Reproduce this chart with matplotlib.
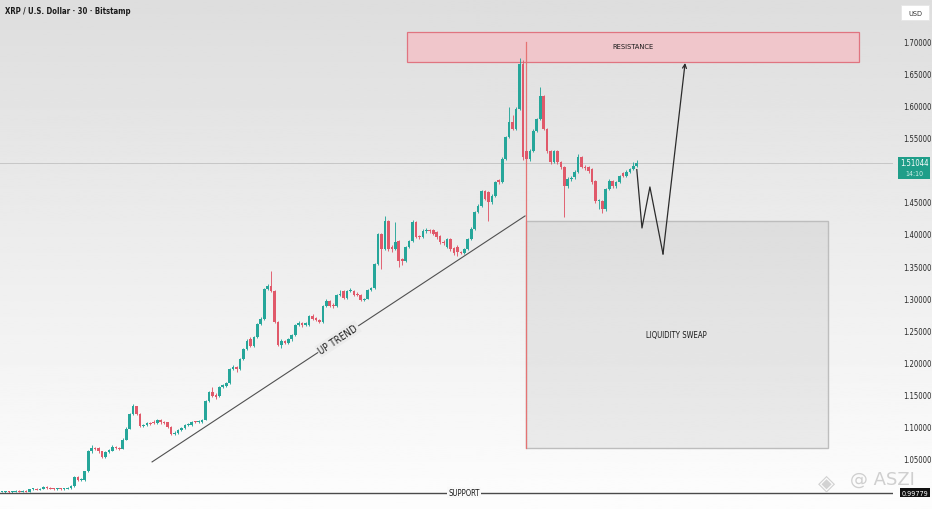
import matplotlib
matplotlib.use("Agg")
import matplotlib.pyplot as plt
import matplotlib.transforms as mtransforms
from matplotlib.patches import Rectangle
import numpy as np

plt.rcParams['font.family'] = ['DejaVu Sans']
plt.rcParams['font.stretch'] = 'condensed'

# ---------------- data (30m candles, XRP/USD) ----------------
opens = [
    0.998, 0.998, 0.999, 0.998, 0.999, 1.000, 0.999, 1.000, 0.999, 1.003,
    1.004, 1.002, 1.004, 1.007, 1.005, 1.004, 1.003, 1.004, 1.003, 1.004,
    1.005, 1.008, 1.022, 1.017, 1.018, 1.031, 1.062, 1.067, 1.067, 1.062,
    1.053, 1.061, 1.063, 1.069, 1.067, 1.066, 1.080, 1.097, 1.120, 1.132,
    1.120, 1.101, 1.103, 1.106, 1.108, 1.106, 1.111, 1.108, 1.107, 1.100,
    1.089, 1.091, 1.095, 1.098, 1.103, 1.103, 1.108, 1.108, 1.107, 1.111,
    1.140, 1.154, 1.150, 1.148, 1.162, 1.163, 1.168, 1.190, 1.193, 1.190,
    1.205, 1.221, 1.237, 1.226, 1.240, 1.260, 1.268, 1.314, 1.319, 1.311,
    1.263, 1.227, 1.233, 1.231, 1.236, 1.243, 1.258, 1.261, 1.258, 1.258,
    1.272, 1.269, 1.266, 1.263, 1.288, 1.296, 1.290, 1.288, 1.305, 1.311,
    1.300, 1.311, 1.311, 1.307, 1.305, 1.297, 1.299, 1.313, 1.316, 1.353,
    1.400, 1.377, 1.420, 1.380, 1.377, 1.389, 1.361, 1.358, 1.380, 1.389,
    1.418, 1.397, 1.395, 1.404, 1.405, 1.406, 1.403, 1.397, 1.388, 1.380,
    1.392, 1.378, 1.380, 1.372, 1.371, 1.377, 1.392, 1.408, 1.434, 1.443,
    1.467, 1.465, 1.450, 1.459, 1.484, 1.481, 1.517, 1.551, 1.574, 1.563,
    1.594, 1.664, 1.529, 1.517, 1.529, 1.560, 1.579, 1.615, 1.563, 1.529,
    1.512, 1.529, 1.512, 1.504, 1.475, 1.485, 1.488, 1.496, 1.520, 1.504,
    1.504, 1.501, 1.482, 1.451, 1.451, 1.439, 1.470, 1.482, 1.475, 1.481,
    1.494, 1.490, 1.496, 1.501, 1.506,
]
highs = [
    0.999, 1.000, 1.000, 1.000, 1.001, 1.001, 1.001, 1.001, 1.004, 1.005,
    1.005, 1.005, 1.008, 1.008, 1.006, 1.005, 1.005, 1.005, 1.005, 1.006,
    1.009, 1.024, 1.024, 1.021, 1.032, 1.064, 1.072, 1.069, 1.068, 1.063,
    1.062, 1.066, 1.071, 1.070, 1.069, 1.082, 1.099, 1.122, 1.135, 1.133,
    1.121, 1.105, 1.108, 1.108, 1.110, 1.112, 1.112, 1.109, 1.108, 1.101,
    1.093, 1.096, 1.100, 1.104, 1.106, 1.109, 1.109, 1.110, 1.112, 1.141,
    1.155, 1.162, 1.152, 1.164, 1.167, 1.170, 1.192, 1.196, 1.195, 1.207,
    1.223, 1.236, 1.240, 1.241, 1.262, 1.270, 1.316, 1.322, 1.342, 1.313,
    1.265, 1.236, 1.235, 1.238, 1.245, 1.260, 1.264, 1.263, 1.263, 1.274,
    1.275, 1.271, 1.268, 1.290, 1.298, 1.297, 1.292, 1.307, 1.312, 1.313,
    1.313, 1.316, 1.313, 1.309, 1.306, 1.301, 1.314, 1.318, 1.355, 1.402,
    1.401, 1.428, 1.422, 1.382, 1.418, 1.391, 1.363, 1.381, 1.391, 1.421,
    1.420, 1.399, 1.407, 1.409, 1.408, 1.408, 1.405, 1.398, 1.390, 1.394,
    1.394, 1.380, 1.382, 1.374, 1.378, 1.394, 1.410, 1.436, 1.446, 1.469,
    1.468, 1.467, 1.462, 1.483, 1.486, 1.519, 1.553, 1.597, 1.585, 1.597,
    1.674, 1.670, 1.531, 1.532, 1.563, 1.581, 1.629, 1.616, 1.565, 1.531,
    1.531, 1.531, 1.514, 1.506, 1.488, 1.490, 1.499, 1.525, 1.521, 1.507,
    1.506, 1.503, 1.484, 1.455, 1.453, 1.472, 1.485, 1.484, 1.483, 1.492,
    1.496, 1.499, 1.503, 1.512, 1.515,
]
lows = [
    0.997, 0.997, 0.997, 0.997, 0.998, 0.998, 0.998, 0.998, 0.998, 1.002,
    1.001, 1.001, 1.003, 1.004, 1.003, 1.002, 1.002, 1.002, 1.002, 1.003,
    1.004, 1.007, 1.015, 1.015, 1.016, 1.030, 1.060, 1.064, 1.060, 1.051,
    1.052, 1.059, 1.062, 1.065, 1.064, 1.065, 1.079, 1.096, 1.118, 1.118,
    1.099, 1.099, 1.101, 1.103, 1.104, 1.104, 1.105, 1.104, 1.098, 1.087,
    1.087, 1.089, 1.094, 1.097, 1.102, 1.102, 1.106, 1.106, 1.106, 1.110,
    1.139, 1.146, 1.144, 1.147, 1.160, 1.162, 1.167, 1.188, 1.186, 1.189,
    1.204, 1.220, 1.224, 1.224, 1.238, 1.258, 1.266, 1.312, 1.309, 1.261,
    1.225, 1.222, 1.228, 1.229, 1.234, 1.241, 1.256, 1.255, 1.256, 1.257,
    1.266, 1.264, 1.261, 1.262, 1.286, 1.286, 1.285, 1.287, 1.303, 1.298,
    1.299, 1.309, 1.303, 1.303, 1.295, 1.295, 1.298, 1.311, 1.315, 1.352,
    1.345, 1.375, 1.374, 1.372, 1.375, 1.349, 1.352, 1.356, 1.378, 1.388,
    1.393, 1.392, 1.393, 1.402, 1.401, 1.398, 1.392, 1.385, 1.383, 1.378,
    1.374, 1.367, 1.366, 1.368, 1.369, 1.375, 1.390, 1.406, 1.432, 1.442,
    1.452, 1.420, 1.447, 1.457, 1.478, 1.479, 1.515, 1.549, 1.561, 1.561,
    1.592, 1.515, 1.496, 1.514, 1.527, 1.558, 1.577, 1.561, 1.526, 1.509,
    1.510, 1.509, 1.501, 1.426, 1.472, 1.483, 1.486, 1.494, 1.502, 1.500,
    1.495, 1.478, 1.448, 1.438, 1.432, 1.436, 1.468, 1.472, 1.472, 1.479,
    1.488, 1.489, 1.495, 1.499, 1.504,
]
closes = [
    0.998, 0.999, 0.998, 0.999, 1.000, 0.999, 1.000, 0.999, 1.003, 1.004,
    1.002, 1.004, 1.007, 1.005, 1.004, 1.003, 1.004, 1.003, 1.004, 1.005,
    1.008, 1.022, 1.017, 1.019, 1.031, 1.062, 1.067, 1.066, 1.062, 1.053,
    1.061, 1.064, 1.069, 1.067, 1.066, 1.080, 1.097, 1.120, 1.132, 1.120,
    1.101, 1.103, 1.106, 1.105, 1.106, 1.111, 1.107, 1.106, 1.100, 1.089,
    1.091, 1.095, 1.098, 1.103, 1.104, 1.108, 1.107, 1.109, 1.111, 1.140,
    1.154, 1.148, 1.146, 1.162, 1.165, 1.168, 1.190, 1.193, 1.190, 1.205,
    1.221, 1.233, 1.226, 1.240, 1.260, 1.268, 1.314, 1.319, 1.311, 1.263,
    1.227, 1.233, 1.231, 1.236, 1.243, 1.258, 1.261, 1.258, 1.261, 1.272,
    1.268, 1.266, 1.263, 1.288, 1.296, 1.288, 1.288, 1.305, 1.307, 1.300,
    1.311, 1.312, 1.305, 1.305, 1.297, 1.299, 1.313, 1.316, 1.353, 1.400,
    1.377, 1.420, 1.377, 1.377, 1.387, 1.358, 1.358, 1.380, 1.389, 1.418,
    1.395, 1.395, 1.404, 1.406, 1.404, 1.400, 1.395, 1.387, 1.386, 1.392,
    1.377, 1.370, 1.372, 1.371, 1.377, 1.392, 1.408, 1.434, 1.443, 1.467,
    1.454, 1.450, 1.459, 1.481, 1.481, 1.517, 1.551, 1.574, 1.563, 1.594,
    1.664, 1.520, 1.517, 1.529, 1.560, 1.579, 1.615, 1.563, 1.529, 1.512,
    1.529, 1.512, 1.504, 1.475, 1.485, 1.487, 1.496, 1.520, 1.504, 1.503,
    1.498, 1.481, 1.451, 1.452, 1.439, 1.470, 1.482, 1.475, 1.481, 1.490,
    1.490, 1.496, 1.501, 1.506, 1.51044,
]

price_ticks = [1.05, 1.10, 1.15, 1.20, 1.25, 1.30, 1.35, 1.40,
               1.45, 1.55, 1.60, 1.65, 1.70]
last_price = 1.51044
last_time = "14:10"
support_price = 0.99779

# drawings (bar index, price)
resistance_zone = (117.4, 248.4, 1.6669, 1.7135)
sweep_zone = (151.8, 239.3, 1.0667, 1.4197)
trend_x = [43.5, 151.6]
trend_y = [1.0454, 1.4279]
path_x = [184, 185.5, 187.8, 191.6, 198.0]
path_y = [1.500, 1.4092, 1.4730, 1.3688, 1.6658]

# ---------------- figure ----------------
W, H = 932, 510
fig = plt.figure(figsize=(W / 100, H / 100), dpi=100)

bg = fig.add_axes([0, 0, 1, 1], zorder=0)
grad = np.linspace(0.868, 0.992, 256).reshape(-1, 1)
bg.imshow(grad, aspect='auto', cmap='gray', vmin=0, vmax=1,
          extent=[0, 1, 0, 1], origin='upper')
bg.set_axis_off()

AX_W = 893
STEP = 3.45
X0 = 2.0
ax = fig.add_axes([0, 0, AX_W / W, 1], zorder=1)
ax.patch.set_alpha(0)
ax.set_xlim(-X0 / STEP, (AX_W - X0) / STEP)
ax.set_ylim(1.70 - (H - 42) / 643.0, 1.70 + 42 / 643.0)
for s in ax.spines.values():
    s.set_visible(False)
ax.set_xticks([])
ax.yaxis.tick_right()
ax.set_yticks(price_ticks)
ax.set_yticklabels([f"{t:.5f}" for t in price_ticks])
ax.tick_params(axis='y', length=0, pad=7.5, labelsize=5.5, labelcolor='#262626')

UP, DN = '#26a69a', '#e0596a'
n = len(closes)
xs = np.arange(n)
o = np.array(opens); c = np.array(closes)
hi = np.array(highs); lo = np.array(lows)
cols = [UP if cc >= oo else DN for oo, cc in zip(o, c)]
ax.vlines(xs, lo, hi, colors=cols, lw=0.65, zorder=3)
body_lo = np.minimum(o, c)
body_h = np.maximum(np.abs(c - o), 0.0015)
ax.bar(xs, body_h, bottom=body_lo, width=0.78, color=cols, lw=0, zorder=4)

# current price dotted line
ax.axhline(last_price, color='#9a9a9a', lw=0.6, ls=(0, (1.2, 1.2)), zorder=2)

# resistance zone
rx0, rx1, ry0, ry1 = resistance_zone
ax.add_patch(Rectangle((rx0, ry0), rx1 - rx0, ry1 - ry0, fc='#f0c6cb',
                       ec='#e07480', lw=0.9, zorder=2))
ax.text((rx0 + rx1) / 2, 1.6922, 'RESISTANCE', ha='center', va='center',
        fontsize=5.4, color='#1a1a1a', zorder=5)

# liquidity sweep zone
sx0, sx1, sy0, sy1 = sweep_zone
ax.add_patch(Rectangle((sx0, sy0), sx1 - sx0, sy1 - sy0, fc=(0.45, 0.45, 0.45, 0.11),
                       ec='#bdbdbd', lw=1.0, zorder=2))
ax.text(195.4, 1.2428, 'LIQUIDITY SWEAP', ha='center', va='center',
        fontsize=5.6, color='#1a1a1a', zorder=5)
ax.plot([sx0, sx0], [sy0, 1.698], color='#e57373', lw=0.9, zorder=3)

# up trend line
ax.plot(trend_x, trend_y, color='#505050', lw=0.8, zorder=3)
p0 = ax.transData.transform((trend_x[0], trend_y[0]))
p1 = ax.transData.transform((trend_x[1], trend_y[1]))
ang = np.degrees(np.arctan2(p1[1] - p0[1], p1[0] - p0[0]))
ax.text(97.4, 1.2366, 'UP TREND', rotation=ang, rotation_mode='anchor',
        ha='center', va='center', fontsize=7.0, color='#1a1a1a', zorder=5,
        bbox=dict(fc='#ececec', ec='none', pad=1.2))

# support line
ax.axhline(support_price, color='#4a4a4a', lw=1.0, zorder=3)
ax.text(133.9, support_price, 'SUPPORT', ha='center', va='center',
        fontsize=5.6, color='#1a1a1a', zorder=5,
        bbox=dict(fc='#f9f9f9', ec='none', pad=1.0))

# projected path
ax.plot(path_x[:-1], path_y[:-1], color='#2b2b2b', lw=0.9, zorder=5)
ax.annotate('', xy=(path_x[-1], path_y[-1]), xytext=(path_x[-2], path_y[-2]),
            arrowprops=dict(arrowstyle='->', color='#2b2b2b', lw=0.9,
                            mutation_scale=7, shrinkA=0, shrinkB=0), zorder=5)

# price labels on the right scale
bt = mtransforms.blended_transform_factory(ax.transAxes, ax.transData)
ax.add_patch(Rectangle((898 / AX_W, 1.4854), 32 / AX_W, 0.0342, transform=bt,
                       fc='#1f9e89', ec='none', clip_on=False, zorder=6))
ax.text(914 / AX_W, 1.5112, f"{last_price:.5f}", transform=bt, ha='center',
        va='center', fontsize=5.6, color='white', clip_on=False, zorder=7)
ax.text(914 / AX_W, 1.4950, last_time, transform=bt, ha='center',
        va='center', fontsize=5.0, color='#cdeee8', clip_on=False, zorder=7)
ax.add_patch(Rectangle((900 / AX_W, support_price - 0.0068), 30 / AX_W, 0.0136,
                       transform=bt, fc='#111111', ec='none', clip_on=False, zorder=6))
ax.text(915 / AX_W, support_price - 0.0005, f"{support_price:.5f}", transform=bt,
        ha='center', va='center', fontsize=5.2, color='white', clip_on=False, zorder=7)

# USD box and title
fig.add_artist(Rectangle((901 / W, 1 - 21 / H), 28 / W, 15 / H, transform=fig.transFigure,
                         fc='white', ec='#e6e6e6', lw=0.6, zorder=6))
fig.text(915 / W, 1 - 13.5 / H, 'USD', ha='center', va='center', fontsize=5.2,
         color='#333333', zorder=7)
fig.text(5 / W, 1 - 12 / H, 'XRP / U.S. Dollar · 30 · Bitstamp', ha='left', va='center',
         fontsize=5.6, fontweight='bold', color='#1a1a1a', zorder=7)

# watermark
fig.text(826 / W, 1 - 483 / H, '◈', ha='center', va='center', fontsize=16,
         color='#d2d2d2', zorder=7, stretch='normal')
fig.text(882 / W, 1 - 480 / H, '@ ASZI', ha='center', va='center', fontsize=13,
         color='#cfcfcf', zorder=7, stretch='normal')

fig.savefig('out.png', dpi=100)
